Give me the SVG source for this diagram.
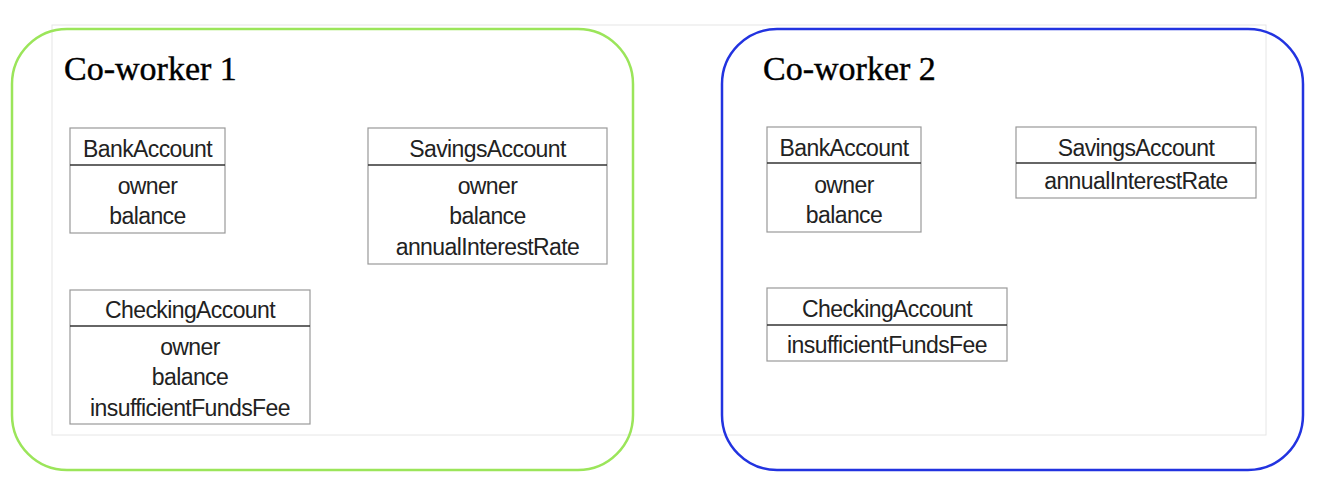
<svg xmlns="http://www.w3.org/2000/svg" width="1320" height="500" viewBox="0 0 1320 500">
<style>
.box{fill:#fff;stroke:#999;stroke-width:1.2}
.div{stroke:#333;stroke-width:1.5}
.t{font-family:'Liberation Sans',Helvetica,Arial,sans-serif;font-size:23px;fill:#222;text-anchor:middle;letter-spacing:-0.6px}
.h{font-family:'Liberation Serif','Times New Roman',serif;font-size:34px;fill:#000;stroke:#000;stroke-width:0.4}
</style>
<rect width="1320" height="500" fill="#fff"/>
<rect x="52" y="25" width="1214" height="410" fill="#fff" stroke="#e6e6e6" stroke-width="1"/>
<g id="coworker1">
<rect x="12" y="29" width="621" height="441" rx="55" fill="none" stroke="#9be55a" stroke-width="2.5"/>
<text class="h" x="64" y="80">Co-worker 1</text>
</g>
<g id="coworker2">
<rect x="722" y="29" width="581" height="441" rx="55" fill="none" stroke="#2233e0" stroke-width="2.5"/>
<text class="h" x="763" y="80">Co-worker 2</text>
</g>
<g id="c1-bank">
<rect class="box" x="70" y="128" width="155" height="105"/>
<line class="div" x1="70" y1="165" x2="225" y2="165"/>
<text class="t" x="147.5" y="157">BankAccount</text>
<text class="t" x="147.5" y="194">owner</text>
<text class="t" x="147.5" y="224">balance</text>
</g>
<g id="c1-savings">
<rect class="box" x="368" y="128" width="239" height="136"/>
<line class="div" x1="368" y1="165" x2="607" y2="165"/>
<text class="t" x="487.5" y="157">SavingsAccount</text>
<text class="t" x="487.5" y="194">owner</text>
<text class="t" x="487.5" y="224">balance</text>
<text class="t" x="487.5" y="255">annualInterestRate</text>
</g>
<g id="c1-checking">
<rect class="box" x="70" y="290" width="240" height="134"/>
<line class="div" x1="70" y1="326" x2="310" y2="326"/>
<text class="t" x="190" y="318">CheckingAccount</text>
<text class="t" x="190" y="355">owner</text>
<text class="t" x="190" y="385">balance</text>
<text class="t" x="190" y="416">insufficientFundsFee</text>
</g>
<g id="c2-bank">
<rect class="box" x="767" y="127" width="154" height="105"/>
<line class="div" x1="767" y1="163" x2="921" y2="163"/>
<text class="t" x="844" y="156">BankAccount</text>
<text class="t" x="844" y="193">owner</text>
<text class="t" x="844" y="223">balance</text>
</g>
<g id="c2-savings">
<rect class="box" x="1016" y="127" width="240" height="71"/>
<line class="div" x1="1016" y1="163" x2="1256" y2="163"/>
<text class="t" x="1136" y="156">SavingsAccount</text>
<text class="t" x="1136" y="189">annualInterestRate</text>
</g>
<g id="c2-checking">
<rect class="box" x="767" y="288" width="240" height="73"/>
<line class="div" x1="767" y1="325" x2="1007" y2="325"/>
<text class="t" x="887" y="317">CheckingAccount</text>
<text class="t" x="887" y="353">insufficientFundsFee</text>
</g>
<g id="connectors"/>
</svg>
